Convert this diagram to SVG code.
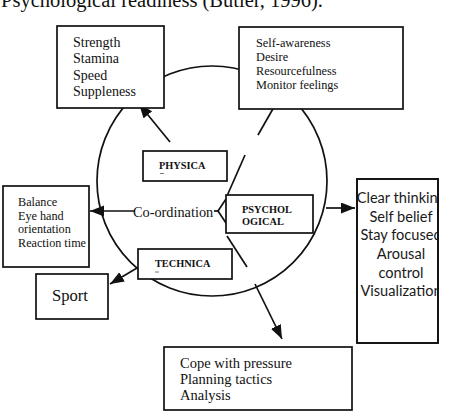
<svg xmlns="http://www.w3.org/2000/svg" width="474" height="412" viewBox="0 0 474 412">
<style>
.box{fill:#fff;stroke:#111;stroke-width:1.7}
.ln{fill:none;stroke:#111;stroke-width:1.7}
.ser{font-family:"Liberation Serif","Times New Roman",serif;fill:#111}
.bold{font-weight:bold;font-size:10.3px}
.sans{font-family:Lato,"Open Sans",sans-serif;fill:#1a1a1a;font-size:14.6px;text-anchor:middle}
</style>
<defs>
<marker id="ah" markerUnits="userSpaceOnUse" markerWidth="15" markerHeight="12" refX="14" refY="5.5" orient="auto">
<path d="M0,0 L14,5.5 L0,11 z" fill="#111"/>
</marker>
<clipPath id="rc"><rect x="357" y="179" width="81" height="164"/></clipPath>
</defs>
<text class="ser" x="1" y="7" font-size="20.5">Psychological readiness (Butler, 1996).</text>
<g id="circle"><circle cx="212" cy="181" r="115" class="ln"/></g>
<g id="connectors">
<line class="ln" x1="170" y1="142" x2="139" y2="104" marker-end="url(#ah)"/>
<line class="ln" x1="258" y1="135" x2="282" y2="93" marker-end="url(#ah)"/>
<line class="ln" x1="245" y1="155" x2="227" y2="196"/>
<polyline class="ln" points="226,199 218,211 226,223"/>
<line class="ln" x1="214" y1="211" x2="218" y2="211"/>
<line class="ln" x1="227" y1="236" x2="247" y2="267"/>
<line class="ln" x1="135" y1="211" x2="90" y2="211" marker-end="url(#ah)"/>
<line class="ln" x1="326" y1="208" x2="355" y2="208" marker-end="url(#ah)"/>
<line class="ln" x1="137" y1="268" x2="110" y2="284" marker-end="url(#ah)"/>
<line class="ln" x1="255" y1="284" x2="282" y2="339" stroke-width="1.4" marker-end="url(#ah)"/>
</g>
<g id="physical-attrs">
<rect class="box" x="57" y="26" width="107" height="82"/>
<text class="ser" font-size="14"><tspan x="73" y="47">Strength</tspan><tspan x="73" y="63.3">Stamina</tspan><tspan x="73" y="79.6">Speed</tspan><tspan x="73" y="96">Suppleness</tspan></text>
</g>
<g id="psych-attrs">
<rect class="box" x="239" y="27" width="164" height="82"/>
<text class="ser" font-size="12.3"><tspan x="256" y="47">Self-awareness</tspan><tspan x="256" y="61">Desire</tspan><tspan x="256" y="75">Resourcefulness</tspan><tspan x="256" y="89">Monitor feelings</tspan></text>
</g>
<g id="physical">
<rect class="box" x="143" y="151" width="84" height="30"/>
<text class="ser bold" x="159" y="169">PHYSICA</text>
<line x1="160" y1="173.5" x2="164" y2="173.5" stroke="#777" stroke-width="1"/>
</g>
<g id="psychological">
<rect class="box" x="226" y="195" width="87" height="38"/>
<text class="ser bold"><tspan x="242" y="213">PSYCHOL</tspan><tspan x="242" y="225">OGICAL</tspan></text>
</g>
<g id="technical">
<rect class="box" x="138" y="249" width="94" height="30"/>
<text class="ser bold" x="155" y="267">TECHNICA</text>
<line x1="155" y1="272" x2="159" y2="272" stroke="#777" stroke-width="1"/>
</g>
<g id="coordination">
<text class="ser" x="133" y="217" font-size="14.3">Co-ordination</text>
</g>
<g id="tech-attrs">
<rect class="box" x="3" y="186" width="86" height="81"/>
<text class="ser" font-size="12.2"><tspan x="18" y="206">Balance</tspan><tspan x="18" y="219.7">Eye hand</tspan><tspan x="18" y="233.4">orientation</tspan><tspan x="18" y="247">Reaction time</tspan></text>
</g>
<g id="sport">
<rect class="box" x="36" y="274" width="72" height="45"/>
<text class="ser" x="52" y="301" font-size="16.6">Sport</text>
</g>
<g id="mental-skills">
<rect class="box" x="357" y="179" width="81" height="164"/>
<g clip-path="url(#rc)"><text class="sans"><tspan x="401" y="203">Clear thinking</tspan><tspan x="401" y="221.7">Self belief</tspan><tspan x="401" y="240.4">Stay focused</tspan><tspan x="401" y="259">Arousal</tspan><tspan x="401" y="277.7">control</tspan><tspan x="401" y="296.4">Visualization</tspan></text></g>
<rect x="357" y="179" width="81" height="164" fill="none" stroke="#111" stroke-width="1.7"/>
</g>
<g id="tactics">
<rect class="box" x="164" y="347" width="188" height="63"/>
<text class="ser" font-size="14.5"><tspan x="180" y="368">Cope with pressure</tspan><tspan x="180" y="384">Planning tactics</tspan><tspan x="180" y="400">Analysis</tspan></text>
</g>
</svg>
